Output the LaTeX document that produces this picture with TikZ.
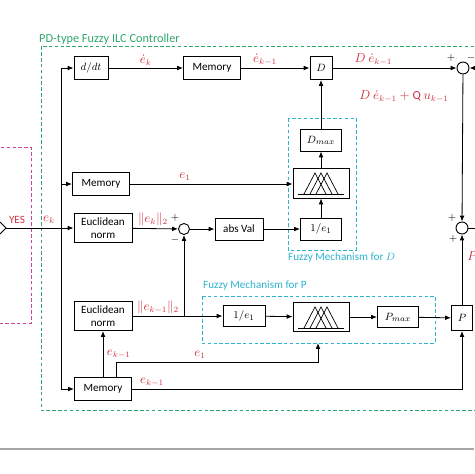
\documentclass[tikz,border=0pt]{standalone}
\usepackage{fontspec}
\setmainfont{Carlito}
\usetikzlibrary{arrows.meta,positioning,calc}
\definecolor{myred}{HTML}{D0323F}
\definecolor{mygreen}{HTML}{2EA86A}
\definecolor{mycyan}{HTML}{2BB3CF}
\definecolor{mymagenta}{HTML}{C8469C}

\begin{document}
\begin{tikzpicture}[
		x=0.03cm,
		y=-0.03cm,
		>=Latex,
		line join=miter,
		font=\fontsize{9.5pt}{11pt}\selectfont,
		block/.style={draw,line width=0.8pt,inner sep=0pt,align=center},
		sumnode/.style={circle,draw,line width=0.8pt,inner sep=0pt,minimum size=0.36cm},
		flow/.style={-{Latex[length=5pt,width=4pt]},line width=0.7pt},
		wire/.style={line width=0.7pt},
		sig/.style={text=myred,inner sep=1pt,font=\fontsize{10.5pt}{12pt}\selectfont},
		sign/.style={font=\fontsize{9pt}{10pt}\selectfont,inner sep=0pt},
		frame/.style={dashed,dash pattern=on 3pt off 2pt,line width=0.8pt},
		mfs/.pic={
			\draw[line width=0.7pt] (-23,11) -- (23,11);
			\foreach \dx in {-6,0,6}
			\draw[line width=0.6pt] (\dx-11,11) -- (\dx,-10) -- (\dx+11,11);
		}
	]
	\useasboundingbox (0,0) rectangle (474,474);
	
	% Frames
	\draw[frame,mygreen] (480,46) -| (41,410) -- (480,410);
	\node[anchor=west,text=mygreen,inner sep=0pt,font=\fontsize{10.5pt}{12pt}\selectfont] (ctltitle) at (39,39) {PD-type Fuzzy ILC Controller};
	\draw[frame,mymagenta] (-5,147) -- (31,147) -- (31,323) -- (-5,323);
	\draw[frame,mycyan] (288,118) rectangle (356,250);
	\node[anchor=west,text=mycyan,inner sep=0pt] (fzDtitle) at (288,258) {Fuzzy Mechanism for $D$};
	\draw[frame,mycyan] (202,296) rectangle (435,343);
	\node[anchor=west,text=mycyan,inner sep=0pt] (fzPtitle) at (203,286) {Fuzzy Mechanism for P};
	\draw[gray!70,line width=1pt] (0,449) -- (474,449);
	
	% Blocks
	\node[block,minimum width=1.02cm,minimum height=0.69cm] (ddt) at (91,68) {$d/dt$};
	\node[block,minimum width=1.71cm,minimum height=0.69cm] (memA) at (212,68) {Memory};
	\node[block,minimum width=0.66cm,minimum height=0.69cm] (dgain) at (321,68) {$D$};
	\node[block,minimum width=1.23cm,minimum height=0.66cm] (dmax) at (321,140) {$D_{max}$};
	\node[block,minimum width=1.68cm,minimum height=0.90cm] (fuzzD) at (321,183) {};
	\pic at (fuzzD) {mfs};
	\node[block,minimum width=1.23cm,minimum height=0.66cm] (invD) at (321,229) {$1/e_1$};
	\node[block,minimum width=1.71cm,minimum height=0.69cm] (memE) at (101,184) {Memory};
	\node[block,minimum width=1.74cm,minimum height=0.87cm] (eucK) at (103,228) {Euclidean\\norm};
	\node[sumnode,minimum size=0.33cm] (sumabs) at (184,229) {};
	\node[block,minimum width=1.44cm,minimum height=0.66cm] (absval) at (239,229) {abs Val};
	\node[block,minimum width=1.74cm,minimum height=0.87cm] (eucKm) at (103,316) {Euclidean\\norm};
	\node[block,minimum width=1.26cm,minimum height=0.63cm] (invP) at (244,316) {$1/e_1$};
	\node[block,minimum width=1.68cm,minimum height=0.87cm] (fuzzP) at (321,317) {};
	\pic at (fuzzP) {mfs};
	\node[block,minimum width=1.23cm,minimum height=0.63cm] (pmax) at (398,317) {$P_{max}$};
	\node[block,minimum width=0.63cm,minimum height=0.75cm] (pgain) at (462,318) {$P$};
	\node[block,minimum width=1.71cm,minimum height=0.69cm] (memKm) at (103,389) {Memory};
	\node[sumnode] (sumtop) at (463,68) {};
	\node[sumnode] (sumout) at (462,228) {};
	
	% Input and bus
	\coordinate (yesin) at (6,228);
	\coordinate (bus) at (61,228);
	\draw[wire] (0,222) -- (yesin) -- (0,234);
	\draw[flow] (yesin) -- (eucK.west);
	\node[text=myred,inner sep=1pt] (yeslbl) at (17,220) {YES};
	\node[sig] (eklbl) at (49,220) {$e_k$};
	\draw[flow] (bus) |- (ddt.west);
	\draw[flow] (bus) |- (memKm.west);
	\draw[flow] (bus|-memE) -- (memE.west);
	
	% D path
	\draw[flow] (ddt) -- node[sig,above=1pt] {$\dot e_k$} (memA);
	\draw[flow] (memA) -- node[sig,above=1pt,pos=0.35] {$\dot e_{k-1}$} (dgain);
	\draw[flow] (dgain) -- node[sig,above=1pt,pos=0.33] {$D\ \dot e_{k-1}$} (sumtop);
	\draw[flow] (dmax) -- (dgain);
	\draw[flow] (fuzzD) -- (dmax);
	\draw[flow] (invD) -- (fuzzD);
	\draw[flow] (memE) -- (fuzzD.west|-memE);
	\node[sig] (e1top) at (185,177) {$e_1$};
	\node[sig] (dqlbl) at (404,97) {$D\ \dot e_{k-1} + \mathrm{Q}\ u_{k-1}$};
	
	% Norm difference
	\draw[flow] (eucK) -- node[sig,above=1pt,pos=0.45] {$\|e_k\|_2$} (sumabs);
	\draw[flow] (sumabs) -- (absval);
	\draw[flow] (absval) -- (invD);
	\coordinate (jn) at (184,316);
	\draw[flow] (eucKm) -- (invP);
	\node[sig] (nkm) at (158,307) {$\|e_{k-1}\|_2$};
	\draw[flow] (jn) -- (sumabs);
	\node[sign] (pabs) at (175,218) {$+$};
	\node[sign] (mabs) at (175,240) {$-$};
	
	% P path
	\draw[flow] (invP) -- (fuzzP);
	\draw[flow] (fuzzP) -- (pmax);
	\draw[flow] (pmax) -- (pgain);
	\draw[flow] (memKm) -- node[sig,right=2pt] {$e_{k-1}$} (eucKm);
	\coordinate (fzPin) at (318,343);
	\draw[flow] (116,378) |- (318,362) -- (fzPin);
	\node[sig] (e1lbl) at (200,355) {$e_1$};
	\draw[flow] (memKm) -| (pgain);
	\node[sig] (ekm) at (152,382) {$e_{k-1}$};
	
	% Output sums
	\coordinate (fbin) at (482,68);
	\coordinate (uout) at (482,228);
	\draw[flow] (fbin) -- (sumtop);
	\draw[flow] (sumtop) -- (sumout);
	\draw[flow] (pgain) -- (sumout);
	\draw[wire] (sumout) -- (uout);
	\node[sign] (ptop) at (451,58) {$+$};
	\node[sign] (mtop) at (471,58) {$-$};
	\node[sign] (pout1) at (452,218) {$+$};
	\node[sign] (pout2) at (453,239) {$+$};
	\node[sig,anchor=west] (plbl) at (466,256) {$P$};
	
\end{tikzpicture}
\end{document}
